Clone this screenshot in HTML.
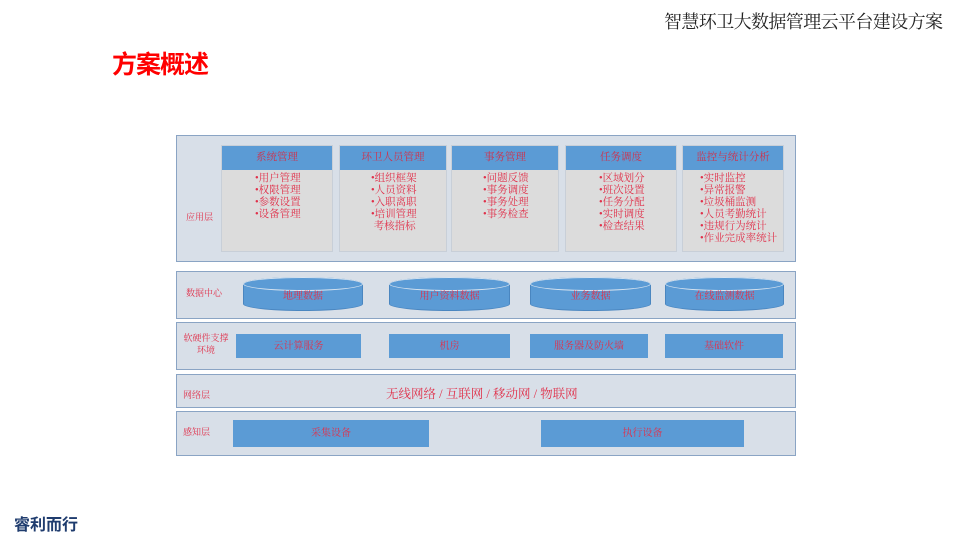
<!DOCTYPE html>
<html><head><meta charset="utf-8"><style>
*{margin:0;padding:0;box-sizing:border-box}
body{width:960px;height:540px;background:#fff;position:relative;overflow:hidden;font-family:"Liberation Serif","Noto Serif CJK SC",serif}
.a{position:absolute}
.layer{position:absolute;left:176px;width:620px;background:#d8dfe8;border:1px solid #8aa4c4}
.lbl{position:absolute;color:#e0304a;font-size:9px;line-height:12px}
.box{position:absolute;background:#5b9bd5;color:#e0304a;font-size:10px;text-align:center}
.col{position:absolute;top:145px;height:107px;background:#dcdcdc;border:1px solid #c8cfd8}
.col .h{height:24px;background:#5b9bd5;color:#d0304a;font-size:10.5px;text-align:center;line-height:24px}
.col .b{color:#e0304a;font-size:10.5px;line-height:12px;padding-top:3px;padding-left:0;text-align:left}
.cyl{position:absolute;top:277px;height:34px;background:#5b9bd5;border-radius:50%/7px;color:#e0304a;font-size:10px;text-align:center;line-height:38px;border:1px solid #4a86c0}
.cyl:before{content:"";position:absolute;left:-1px;right:-1px;top:-1px;height:12px;border-radius:50%;background:#5b9bd5;border:1px solid #d8e4f0}
.cyl span{position:relative}
</style></head><body>
<div class="a" style="left:664px;top:8px;font-size:18px;color:#222;letter-spacing:-0.6px">智慧环卫大数据管理云平台建设方案</div>
<div class="a" style="left:112px;top:45px;font-size:25px;font-weight:bold;color:#f00;font-family:'Liberation Sans','Noto Sans CJK SC',sans-serif;letter-spacing:-1px">方案概述</div>
<div class="a" style="left:14px;top:511px;font-size:16px;font-weight:bold;color:#1f3c6e;font-family:'Liberation Sans','Noto Sans CJK SC',sans-serif">睿利而行</div>

<div class="layer" style="top:135px;height:127px"></div>
<div class="lbl" style="left:186px;top:211px">应用层</div>
<div class="col" style="left:221px;width:112px"><div class="h">系统管理</div><div class="b" style="padding-left:33px">•用户管理<br>•权限管理<br>•参数设置<br>•设备管理</div></div>
<div class="col" style="left:339px;width:108px"><div class="h">环卫人员管理</div><div class="b" style="padding-left:31px">•组织框架<br>•人员资料<br>•入职离职<br>•培训管理<br>&nbsp;考核指标</div></div>
<div class="col" style="left:451px;width:108px"><div class="h">事务管理</div><div class="b" style="padding-left:31px">•问题反馈<br>•事务调度<br>•事务处理<br>•事务检查</div></div>
<div class="col" style="left:565px;width:112px"><div class="h">任务调度</div><div class="b" style="padding-left:33px">•区域划分<br>•班次设置<br>•任务分配<br>•实时调度<br>•检查结果</div></div>
<div class="col" style="left:682px;width:102px"><div class="h">监控与统计分析</div><div class="b" style="padding-left:17px">•实时监控<br>•异常报警<br>•垃圾桶监测<br>•人员考勤统计<br>•违规行为统计<br>•作业完成率统计</div></div>

<div class="layer" style="top:271px;height:48px"></div>
<div class="lbl" style="left:186px;top:287px">数据中心</div>
<div class="cyl" style="left:243px;width:120px"><span>地理数据</span></div>
<div class="cyl" style="left:389px;width:121px"><span>用户资料数据</span></div>
<div class="cyl" style="left:530px;width:121px"><span>业务数据</span></div>
<div class="cyl" style="left:665px;width:119px"><span>在线监测数据</span></div>

<div class="layer" style="top:322px;height:48px"></div>
<div class="lbl" style="left:183px;top:332px;text-align:center;width:46px">软硬件支撑<br>环境</div>
<div class="box" style="left:236px;top:334px;width:125px;height:24px;line-height:26px">云计算服务</div>
<div class="box" style="left:389px;top:334px;width:121px;height:24px;line-height:26px">机房</div>
<div class="box" style="left:530px;top:334px;width:118px;height:24px;line-height:26px">服务器及防火墙</div>
<div class="box" style="left:665px;top:334px;width:118px;height:24px;line-height:26px">基础软件</div>

<div class="layer" style="top:374px;height:34px"></div>
<div class="lbl" style="left:183px;top:389px">网络层</div>
<div class="a" style="left:386px;top:384px;font-size:12.5px;color:#e0304a">无线网络 / 互联网 / 移动网 / 物联网</div>

<div class="layer" style="top:411px;height:45px"></div>
<div class="lbl" style="left:183px;top:426px">感知层</div>
<div class="box" style="left:233px;top:420px;width:196px;height:27px;line-height:27px">采集设备</div>
<div class="box" style="left:541px;top:420px;width:203px;height:27px;line-height:27px">执行设备</div>
</body></html>
